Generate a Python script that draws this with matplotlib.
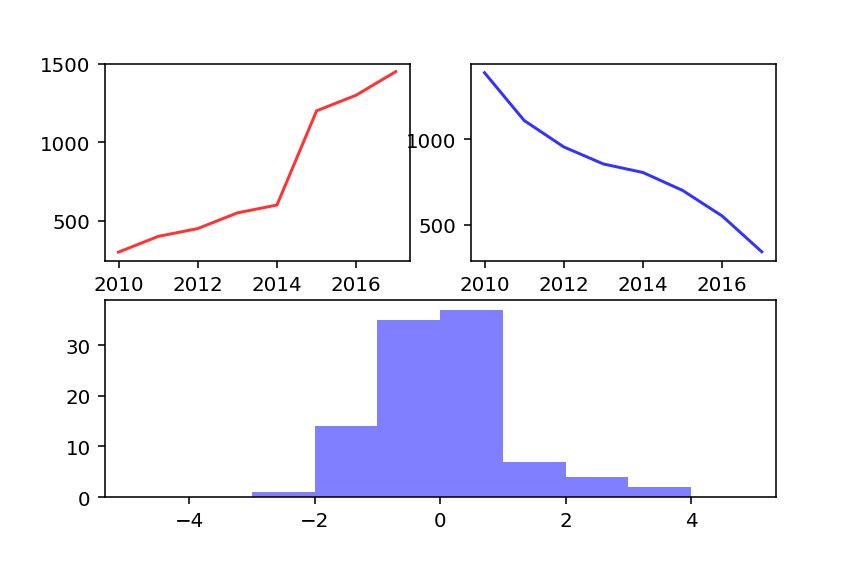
import matplotlib
matplotlib.use("Agg")
import matplotlib.pyplot as plt

years = [2010, 2011, 2012, 2013, 2014, 2015, 2016, 2017]
red_vals = [300, 400, 450, 550, 600, 1200, 1300, 1450]
blue_vals = [1390, 1110, 955, 855, 805, 700, 550, 340]
bin_edges = [-3, -2, -1, 0, 1, 2, 3, 4]
counts = [1, 14, 35, 37, 7, 4, 2]

fig = plt.figure(figsize=(6, 3.972), dpi=143)
gs = fig.add_gridspec(2, 2, left=0.122, right=0.904, top=0.886, bottom=0.123, hspace=0.2, wspace=0.2)
ax1 = fig.add_subplot(gs[0, 0])
ax2 = fig.add_subplot(gs[0, 1])
ax3 = fig.add_subplot(gs[1, :])

ax1.plot(years, red_vals, color='red', alpha=0.8)
ax1.set_ylim(245, 1500)
ax1.set_yticks([500, 1000, 1500])
ax1.set_xticks([2010, 2012, 2014, 2016])
ax2.plot(years, blue_vals, color='blue', alpha=0.8)
ax2.set_yticks([500, 1000])
ax2.set_xticks([2010, 2012, 2014, 2016])

ax3.hist(bin_edges[:-1], bins=bin_edges, weights=counts, color='blue', alpha=0.5)
ax3.set_xlim(-5.35, 5.35)
ax3.set_xticks([-4, -2, 0, 2, 4])

fig.savefig("out.png")
